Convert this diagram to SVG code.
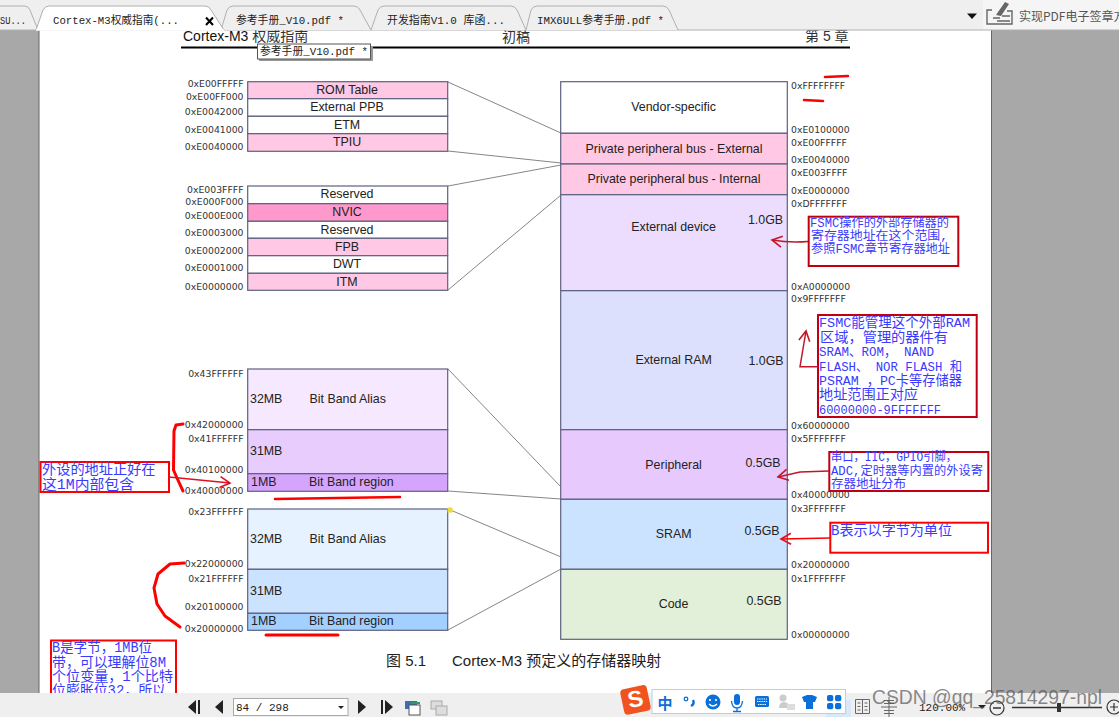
<svg xmlns="http://www.w3.org/2000/svg" width="1119" height="717" viewBox="0 0 1119 717">
<style>
.a{font:9.300px "DejaVu Sans",sans-serif;fill:#333;dominant-baseline:central}
.e{text-anchor:end}
.l{font:12.400px "Liberation Sans",sans-serif;fill:#222;dominant-baseline:central}
.m{text-anchor:middle}
.b{stroke:#5d6180;stroke-width:1.200}
.n{font-family:"Liberation Mono","Noto Sans CJK SC",monospace;fill:#3a3aff;dominant-baseline:central}
.t{font:11px "Liberation Mono","Noto Sans CJK SC",monospace;fill:#222;dominant-baseline:central}
.tab{fill:#efefef;stroke:#b0b0b0;stroke-width:1}
.ink{fill:none;stroke:#ff0000;stroke-linecap:round;stroke-linejoin:round}
.box{fill:none;stroke:#ff0000;stroke-width:2}
.dbox{fill:none;stroke:#c00010;stroke-width:2}
.ic{fill:#222}
.sg{fill:#0a6fd8}
</style>
<defs>
<marker id="rh" markerUnits="userSpaceOnUse" markerWidth="14" markerHeight="14" refX="11" refY="7" orient="auto"><path d="M1 1.500L11 7L1 12.500" fill="none" stroke="#e01020" stroke-width="1.600"/></marker>
<marker id="dh" markerUnits="userSpaceOnUse" markerWidth="14" markerHeight="14" refX="11" refY="7" orient="auto"><path d="M1 1.500L11 7L1 12.500" fill="none" stroke="#c01828" stroke-width="1.600"/></marker>
</defs>

<rect width="1119" height="717" fill="#a8a8a8"/>
<rect x="39" y="30" width="953" height="664" fill="#fff"/>
<path d="M39 30V693M991.500 30V693" stroke="#666" stroke-width="1"/>

<g id="page-header">
<text x="183" y="36" style="font:14px 'Liberation Sans','Noto Sans CJK SC',sans-serif;dominant-baseline:central" fill="#111">Cortex-M3 <tspan fill="#333">权威指南</tspan></text>
<text x="502" y="36" style="font:14px 'Noto Sans CJK SC',sans-serif;dominant-baseline:central" fill="#333">初稿</text>
<text x="805" y="36" style="font:14px 'Liberation Sans','Noto Sans CJK SC',sans-serif;dominant-baseline:central" fill="#333">第 5 章</text>
<rect x="181" y="46.500" width="669" height="2" fill="#000"/>
</g>

<g id="connectors" fill="none" stroke="#777" stroke-width="0.900">
<path d="M448 82L561 133M448 151L561 163M448 186L561 165M448 290L561 195M448 369L561 487M448 491L561 499M448 509L561 557M448 630L561 569"/>
</g>

<g id="ppb-external">
<rect class="b" x="247.700" y="81.700" width="200" height="17" fill="#ffc8e4"/><text class="l m" x="347" y="89.500">ROM Table</text>
<rect class="b" x="247.700" y="98.700" width="200" height="17.600" fill="#fff"/><text class="l m" x="347" y="107">External PPB</text>
<rect class="b" x="247.700" y="116.300" width="200" height="17.400" fill="#fff"/><text class="l m" x="347" y="124.500">ETM</text>
<rect class="b" x="247.700" y="133.700" width="200" height="17.600" fill="#ffc8e4"/><text class="l m" x="347" y="142">TPIU</text>
<text class="a e" x="243.500" y="83.300">0xE00FFFFF</text><text class="a e" x="243.500" y="96">0xE00FF000</text><text class="a e" x="243.500" y="111.700">0xE0042000</text><text class="a e" x="243.500" y="129.700">0xE0041000</text><text class="a e" x="243.500" y="146.300">0xE0040000</text>
</g>

<g id="ppb-internal">
<rect class="b" x="247.700" y="186" width="200" height="17.700" fill="#fff"/><text class="l m" x="347" y="194">Reserved</text>
<rect class="b" x="247.700" y="203.700" width="200" height="17.600" fill="#ff99cc"/><text class="l m" x="347" y="212">NVIC</text>
<rect class="b" x="247.700" y="221.300" width="200" height="17" fill="#fff"/><text class="l m" x="347" y="229.500">Reserved</text>
<rect class="b" x="247.700" y="238.300" width="200" height="17.400" fill="#ffc8e4"/><text class="l m" x="347" y="247">FPB</text>
<rect class="b" x="247.700" y="255.700" width="200" height="17.600" fill="#fff"/><text class="l m" x="347" y="264">DWT</text>
<rect class="b" x="247.700" y="273.300" width="200" height="17" fill="#ffc8e4"/><text class="l m" x="347" y="281.500">ITM</text>
<text class="a e" x="243.500" y="189.300">0xE003FFFF</text><text class="a e" x="243.500" y="201.700">0xE000F000</text><text class="a e" x="243.500" y="215.700">0xE000E000</text><text class="a e" x="243.500" y="232.700">0xE0003000</text><text class="a e" x="243.500" y="250.300">0xE0002000</text><text class="a e" x="243.500" y="267.300">0xE0001000</text><text class="a e" x="243.500" y="286.700">0xE0000000</text>
</g>

<g id="bitband-peripheral">
<rect class="b" x="247.700" y="369" width="200" height="60.700" fill="#f6e8fe"/>
<rect class="b" x="247.700" y="429.700" width="200" height="44" fill="#e8ccfe"/>
<rect class="b" x="247.700" y="473.700" width="200" height="17.600" fill="#d5a5fe"/>
<text class="l" x="250" y="399">32MB</text><text class="l" x="309.500" y="399">Bit Band Alias</text>
<text class="l" x="250" y="451">31MB</text>
<text class="l" x="251" y="482">1MB</text><text class="l" x="309" y="482">Bit Band region</text>
<text class="a e" x="243.500" y="373">0x43FFFFFF</text><text class="a e" x="243.500" y="424.700">0x42000000</text><text class="a e" x="243.500" y="438.300">0x41FFFFFF</text><text class="a e" x="243.500" y="469">0x40100000</text><text class="a e" x="243.500" y="490.700">0x40000000</text>
</g>

<g id="bitband-sram">
<rect class="b" x="247.700" y="509" width="200" height="60.300" fill="#e6f2ff"/>
<rect class="b" x="247.700" y="569.300" width="200" height="44" fill="#cce3ff"/>
<rect class="b" x="247.700" y="613.300" width="200" height="17" fill="#a3d0ff"/>
<text class="l" x="250" y="538.700">32MB</text><text class="l" x="309.500" y="538.700">Bit Band Alias</text>
<text class="l" x="250" y="591">31MB</text>
<text class="l" x="251" y="621">1MB</text><text class="l" x="309" y="621">Bit Band region</text>
<text class="a e" x="243.500" y="511">0x23FFFFFF</text><text class="a e" x="243.500" y="563.300">0x22000000</text><text class="a e" x="243.500" y="578">0x21FFFFFF</text><text class="a e" x="243.500" y="606.700">0x20100000</text><text class="a e" x="243.500" y="628.300">0x20000000</text>
<rect x="447.500" y="507.500" width="5" height="5" fill="#f0dc30"/>
</g>

<g id="memory-map">
<rect class="b" x="560.700" y="81.700" width="226.600" height="51.600" fill="#fff"/><text class="l m" x="673.600" y="107">Vendor-specific</text>
<rect class="b" x="560.700" y="133.300" width="226.600" height="30.700" fill="#ffc8e4"/><text class="l m" x="674" y="148.700">Private peripheral bus - External</text>
<rect class="b" x="560.700" y="164" width="226.600" height="30.700" fill="#ffc8e4"/><text class="l m" x="674" y="178.700">Private peripheral bus - Internal</text>
<rect class="b" x="560.700" y="194.700" width="226.600" height="96" fill="#ecdcfd"/><text class="l m" x="673.600" y="227">External device</text><text class="l m" x="765.500" y="220">1.0GB</text>
<rect class="b" x="560.700" y="290.700" width="226.600" height="139" fill="#dde0fd"/><text class="l m" x="673.600" y="360">External RAM</text><text class="l m" x="766" y="361">1.0GB</text>
<rect class="b" x="560.700" y="429.700" width="226.600" height="69.600" fill="#e8c9fd"/><text class="l m" x="673.600" y="464.500">Peripheral</text><text class="l m" x="763" y="463">0.5GB</text>
<rect class="b" x="560.700" y="499.300" width="226.600" height="70" fill="#cce3ff"/><text class="l m" x="673.600" y="534">SRAM</text><text class="l m" x="762" y="530.500">0.5GB</text>
<rect class="b" x="560.700" y="569.300" width="226.600" height="70" fill="#e2efd9"/><text class="l m" x="673.600" y="604">Code</text><text class="l m" x="764" y="600.500">0.5GB</text>
<text class="a" x="791" y="85.700">0xFFFFFFFF</text><text class="a" x="791" y="129">0xE0100000</text><text class="a" x="791" y="142">0xE00FFFFF</text><text class="a" x="791" y="159">0xE0040000</text><text class="a" x="791" y="172.700">0xE003FFFF</text><text class="a" x="791" y="190">0xE0000000</text><text class="a" x="791" y="203">0xDFFFFFFF</text><text class="a" x="791" y="286">0xA0000000</text><text class="a" x="791" y="298.700">0x9FFFFFFF</text><text class="a" x="791" y="425">0x60000000</text><text class="a" x="791" y="438">0x5FFFFFFF</text><text class="a" x="791" y="494.700">0x40000000</text><text class="a" x="791" y="508">0x3FFFFFFF</text><text class="a" x="791" y="564.300">0x20000000</text><text class="a" x="791" y="578">0x1FFFFFFF</text><text class="a" x="791" y="634.300">0x00000000</text>
</g>

<text id="caption" x="386" y="660" style="font:15px 'Liberation Sans','Noto Sans CJK SC',sans-serif;dominant-baseline:central" fill="#222">图 5.1<tspan x="452">Cortex-M3 预定义的存储器映射</tspan></text>

<g id="ink-marks">
<line x1="825" y1="77" x2="848" y2="76" stroke="#ff0000" stroke-width="2.500" stroke-linecap="round"/>
<line x1="804" y1="100" x2="823" y2="101" stroke="#ff0000" stroke-width="2.500" stroke-linecap="round"/>
<path class="ink" stroke-width="3" d="M183 424L176 425L174 431L173.500 470L177 478L183 491"/>
<path class="ink" stroke-width="2.500" d="M275 499L400 497"/>
<path class="ink" stroke-width="3" d="M184 563L170 564L158 574L154 588L157 604L165 616L180 627"/>
<path class="ink" stroke-width="3" d="M266 635L338 635"/>
</g>

<g id="note-fsmc-device">
<rect class="dbox" x="808.700" y="216.700" width="149.600" height="49.300"/>
<g class="n" font-size="12.200">
<text x="810" y="224" textLength="139" lengthAdjust="spacingAndGlyphs">FSMC操作的外部存储器的</text>
<text x="811" y="237" textLength="137" lengthAdjust="spacingAndGlyphs">寄存器地址在这个范围,</text>
<text x="811" y="250" textLength="139" lengthAdjust="spacingAndGlyphs">参照FSMC章节寄存器地址</text>
</g>
<path d="M808 241.500Q790 243 772 240" fill="none" stroke="#c01828" stroke-width="1.500" marker-end="url(#dh)"/>
</g>

<g id="note-fsmc-ram">
<rect class="dbox" x="818" y="315" width="158.700" height="102"/>
<g class="n" font-size="13.500">
<text x="819" y="323.300" textLength="151" lengthAdjust="spacingAndGlyphs">FSMC能管理这个外部RAM</text>
<text x="820" y="338.300" textLength="128" lengthAdjust="spacingAndGlyphs">区域，管理的器件有</text>
<text x="819" y="352" textLength="115" lengthAdjust="spacingAndGlyphs">SRAM、ROM， NAND</text>
<text x="819" y="367" textLength="143" lengthAdjust="spacingAndGlyphs">FLASH、 NOR FLASH 和</text>
<text x="819" y="381" textLength="143" lengthAdjust="spacingAndGlyphs">PSRAM ，PC卡等存储器</text>
<text x="819" y="395.500" textLength="99" lengthAdjust="spacingAndGlyphs">地址范围正对应</text>
<text x="819" y="410" textLength="122" lengthAdjust="spacingAndGlyphs">60000000-9FFFFFFF</text>
</g>
<path d="M818 366.700H800L806 331" fill="none" stroke="#c01828" stroke-width="1.500" marker-end="url(#dh)"/>
</g>

<g id="note-peripheral">
<rect class="dbox" x="829.300" y="452" width="159" height="39"/>
<g class="n" font-size="12">
<text x="831" y="458.300" textLength="126" lengthAdjust="spacingAndGlyphs">串口，IIC，GPIO引脚，</text>
<text x="831" y="471.700" textLength="152" lengthAdjust="spacingAndGlyphs">ADC,定时器等内置的外设寄</text>
<text x="831" y="485" textLength="75" lengthAdjust="spacingAndGlyphs">存器地址分布</text>
</g>
<path d="M829 471L800 472L778 477" fill="none" stroke="#c01828" stroke-width="1.500" marker-end="url(#dh)"/>
</g>

<g id="note-byte">
<rect class="box" x="830.300" y="522.700" width="157.700" height="30"/>
<text class="n" font-size="14.200" x="831" y="531" textLength="121" lengthAdjust="spacingAndGlyphs">B表示以字节为单位</text>
<path d="M830 538L781 539" fill="none" stroke="#ff0000" stroke-width="1.500" marker-end="url(#rh)"/>
</g>

<g id="note-1m">
<rect class="box" x="40.500" y="462" width="128.500" height="30"/>
<text class="n" font-size="14.200" x="42" y="470">外设的地址正好在</text>
<text class="n" font-size="14.200" x="42" y="485" textLength="92" lengthAdjust="spacingAndGlyphs">这1M内部包含</text>
<path d="M169 477L230 483" fill="none" stroke="#e01020" stroke-width="1.500" marker-end="url(#rh)"/>
</g>

<g id="note-bitband">
<rect class="box" x="51" y="640.500" width="125" height="60"/>
<g class="n" font-size="14">
<text x="52" y="648" textLength="100" lengthAdjust="spacingAndGlyphs">B是字节，1MB位</text>
<text x="52" y="663" textLength="114" lengthAdjust="spacingAndGlyphs">带，可以理解位8M</text>
<text x="52" y="677" textLength="121" lengthAdjust="spacingAndGlyphs">个位变量，1个比特</text>
<text x="52" y="691" textLength="114" lengthAdjust="spacingAndGlyphs">位膨胀位32，所以</text>
</g>
</g>

<g id="tab-bar">
<rect width="1119" height="30" fill="#efefef"/>
<rect x="983" width="136" height="30" fill="#f5f5f5"/>
<path d="M0 30H1119" stroke="#b0b0b0"/>
<path class="tab" d="M-5 6H25Q28 6 30 10L38 30"/>
<path class="tab" d="M221 30L227 10Q229 6 233 6H354Q358 6 360 10L371 30"/>
<path class="tab" d="M371 30L378 10Q380 6 384 6H511Q515 6 517 10L526 30"/>
<path class="tab" d="M526 30L531 10Q533 6 537 6H663Q667 6 669 10L678 30"/>
<path d="M36 30L43 10Q45 6 49 6H205Q209 6 211 10L224 30" fill="#fff" stroke="#b0b0b0"/>
<path d="M36 30H224" stroke="#fff" stroke-width="1.500"/>
<text class="t" x="0" y="20.500" textLength="26" lengthAdjust="spacingAndGlyphs">SU...</text>
<text class="t" x="53" y="20.500" textLength="126" lengthAdjust="spacingAndGlyphs">Cortex-M3权威指南(...</text>
<path d="M206 17.500L213 25M213 17.500L206 25" stroke="#000" stroke-width="2"/>
<text class="t" x="236" y="20.500" textLength="108" lengthAdjust="spacingAndGlyphs">参考手册_V10.pdf *</text>
<text class="t" x="387" y="20.500" textLength="118" lengthAdjust="spacingAndGlyphs">开发指南V1.0 库函...</text>
<text class="t" x="537" y="20.500" textLength="127" lengthAdjust="spacingAndGlyphs">IMX6ULL参考手册.pdf *</text>
<path d="M967 13.500H977L972 19Z" fill="#111"/>
<path d="M992 10H987V24H1012V11H1007M993 18H1000M997 21H1010M1002 16H1010" fill="none" stroke="#666" stroke-width="1.400"/>
<path d="M996 15L1005 2L1009 4L1001 16Z" fill="#666"/>
<text x="1019" y="15" style="font:12px 'Noto Sans CJK SC',sans-serif;dominant-baseline:central" fill="#555">实现PDF电子签章方</text>
</g>

<g id="tooltip">
<rect x="259" y="46" width="114" height="15" fill="#999"/>
<rect x="257.500" y="44" width="113" height="15" fill="#fff" stroke="#555"/>
<text class="t" x="260" y="51.500" textLength="108" lengthAdjust="spacingAndGlyphs">参考手册_V10.pdf *</text>
</g>

<g id="toolbar">
<rect y="693" width="1119" height="24" fill="#efefef"/>
<path class="ic" d="M198 700V714H200V700ZM196 700L188 707L196 714Z"/>
<path class="ic" d="M223 700L215 707L223 714Z"/>
<rect x="233.500" y="698.500" width="114.500" height="17" fill="#fff" stroke="#aaa"/>
<text class="t" x="236" y="707.500">84 / 298</text>
<path class="ic" d="M338 706H344L341 709Z"/>
<path class="ic" d="M358 700L366 707L358 714Z"/>
<path class="ic" d="M381 700H383V714H381ZM385 700L393 707L385 714Z"/>
<rect x="405" y="701" width="12" height="8" fill="#3a6fb0"/><rect x="409" y="705" width="11" height="10" fill="#fff" stroke="#555"/><path d="M411 703H420" stroke="#2a9d6a" stroke-width="2"/>
<rect x="431" y="701" width="11" height="8" fill="#ddd" stroke="#aaa"/><rect x="436" y="706" width="11" height="9" fill="#ddd" stroke="#aaa"/>
</g>

<g id="ime-bar">
<rect x="826" y="700" width="25" height="17" fill="#d9e8f8"/>
<rect x="652" y="689.500" width="193.500" height="24" fill="#fff" stroke="#b7cfe8"/>
<rect x="622" y="687" width="27" height="26" rx="4" fill="#f0531f" transform="rotate(-12 635 700)"/>
<text x="635.500" y="707" text-anchor="middle" transform="rotate(-12 635 700)" style="font:bold 23px 'Liberation Sans',sans-serif" fill="#fff">S</text>
<text x="665" y="702" text-anchor="middle" style="font:bold 15px 'Noto Sans CJK SC',sans-serif;dominant-baseline:central" class="sg">中</text>
<circle cx="686" cy="699" r="1.800" fill="none" stroke="#0a6fd8" stroke-width="1.300"/><path d="M693 700Q695 704 691 706" fill="none" stroke="#0a6fd8" stroke-width="2.400"/>
<circle class="sg" cx="713" cy="702" r="7.500"/><circle cx="710" cy="700" r="1.100" fill="#fff"/><circle cx="716" cy="700" r="1.100" fill="#fff"/><path d="M709 704Q713 708 717 704" fill="none" stroke="#fff" stroke-width="1.300"/>
<rect class="sg" x="734" y="694" width="6" height="11" rx="3"/><path d="M731.500 701Q732 708 737 708Q742 708 742.500 701M737 708V711M733 711.500H741" fill="none" stroke="#0a6fd8" stroke-width="1.300"/>
<rect class="sg" x="755" y="696" width="14" height="11" rx="1.500"/><path d="M757 699H767M757 701.500H767M758 704.500H766" stroke="#fff" stroke-width="1.100" stroke-dasharray="1.400 .8"/>
<circle cx="783" cy="698" r="3.500" fill="#ccc"/><path d="M779 708Q779 702 784 702Q789 702 789 708Z" fill="#ccc"/><rect x="787" y="704" width="8" height="6" fill="#ddd"/>
<path class="sg" d="M802 697L807 695H812L817 697L815 702H813V709H806V702H804Z"/>
<rect class="sg" x="827" y="695" width="6.300" height="6.300" rx="1.800"/><rect class="sg" x="835" y="695" width="6.300" height="6.300" rx="1.800"/><rect class="sg" x="827" y="703" width="6.300" height="6.300" rx="1.800"/><rect class="sg" x="835" y="703" width="6.300" height="6.300" rx="1.800"/>
</g>

<g id="view-controls">
<path d="M855.500 699.500H869.500V713.500H855.500ZM862.500 699.500V713.500M857.500 703H860.500M857.500 706.500H860.500M857.500 710H860.500M864.500 703H867.500M864.500 706.500H867.500M864.500 710H867.500" fill="none" stroke="#666"/>
<path d="M881 707H897M889 697V717M884 700.500H894M884 703.500H894M884 710.500H894M884 713.500H894" fill="none" stroke="#666"/>
<text class="t" x="919" y="708">120.00%</text>
<path class="ic" d="M978 705H986L982 709Z"/>
<circle cx="997" cy="708" r="7" fill="none" stroke="#333" stroke-width="1.200"/><path d="M993 708H1001M1012 707.500H1102" stroke="#333" stroke-width="1.300"/>
<rect x="1057" y="703" width="4" height="9" fill="#333"/>
<circle cx="1114" cy="707" r="7" fill="none" stroke="#333" stroke-width="1.200"/><path d="M1110 707H1118M1114 703V711" stroke="#333" stroke-width="1.200"/>
</g>

<text id="watermark" x="872" y="697" textLength="230" lengthAdjust="spacingAndGlyphs" style="font:20px 'Liberation Sans',sans-serif;dominant-baseline:central" fill="#555" fill-opacity="0.7">CSDN @qq_25814297-npl</text>
</svg>
